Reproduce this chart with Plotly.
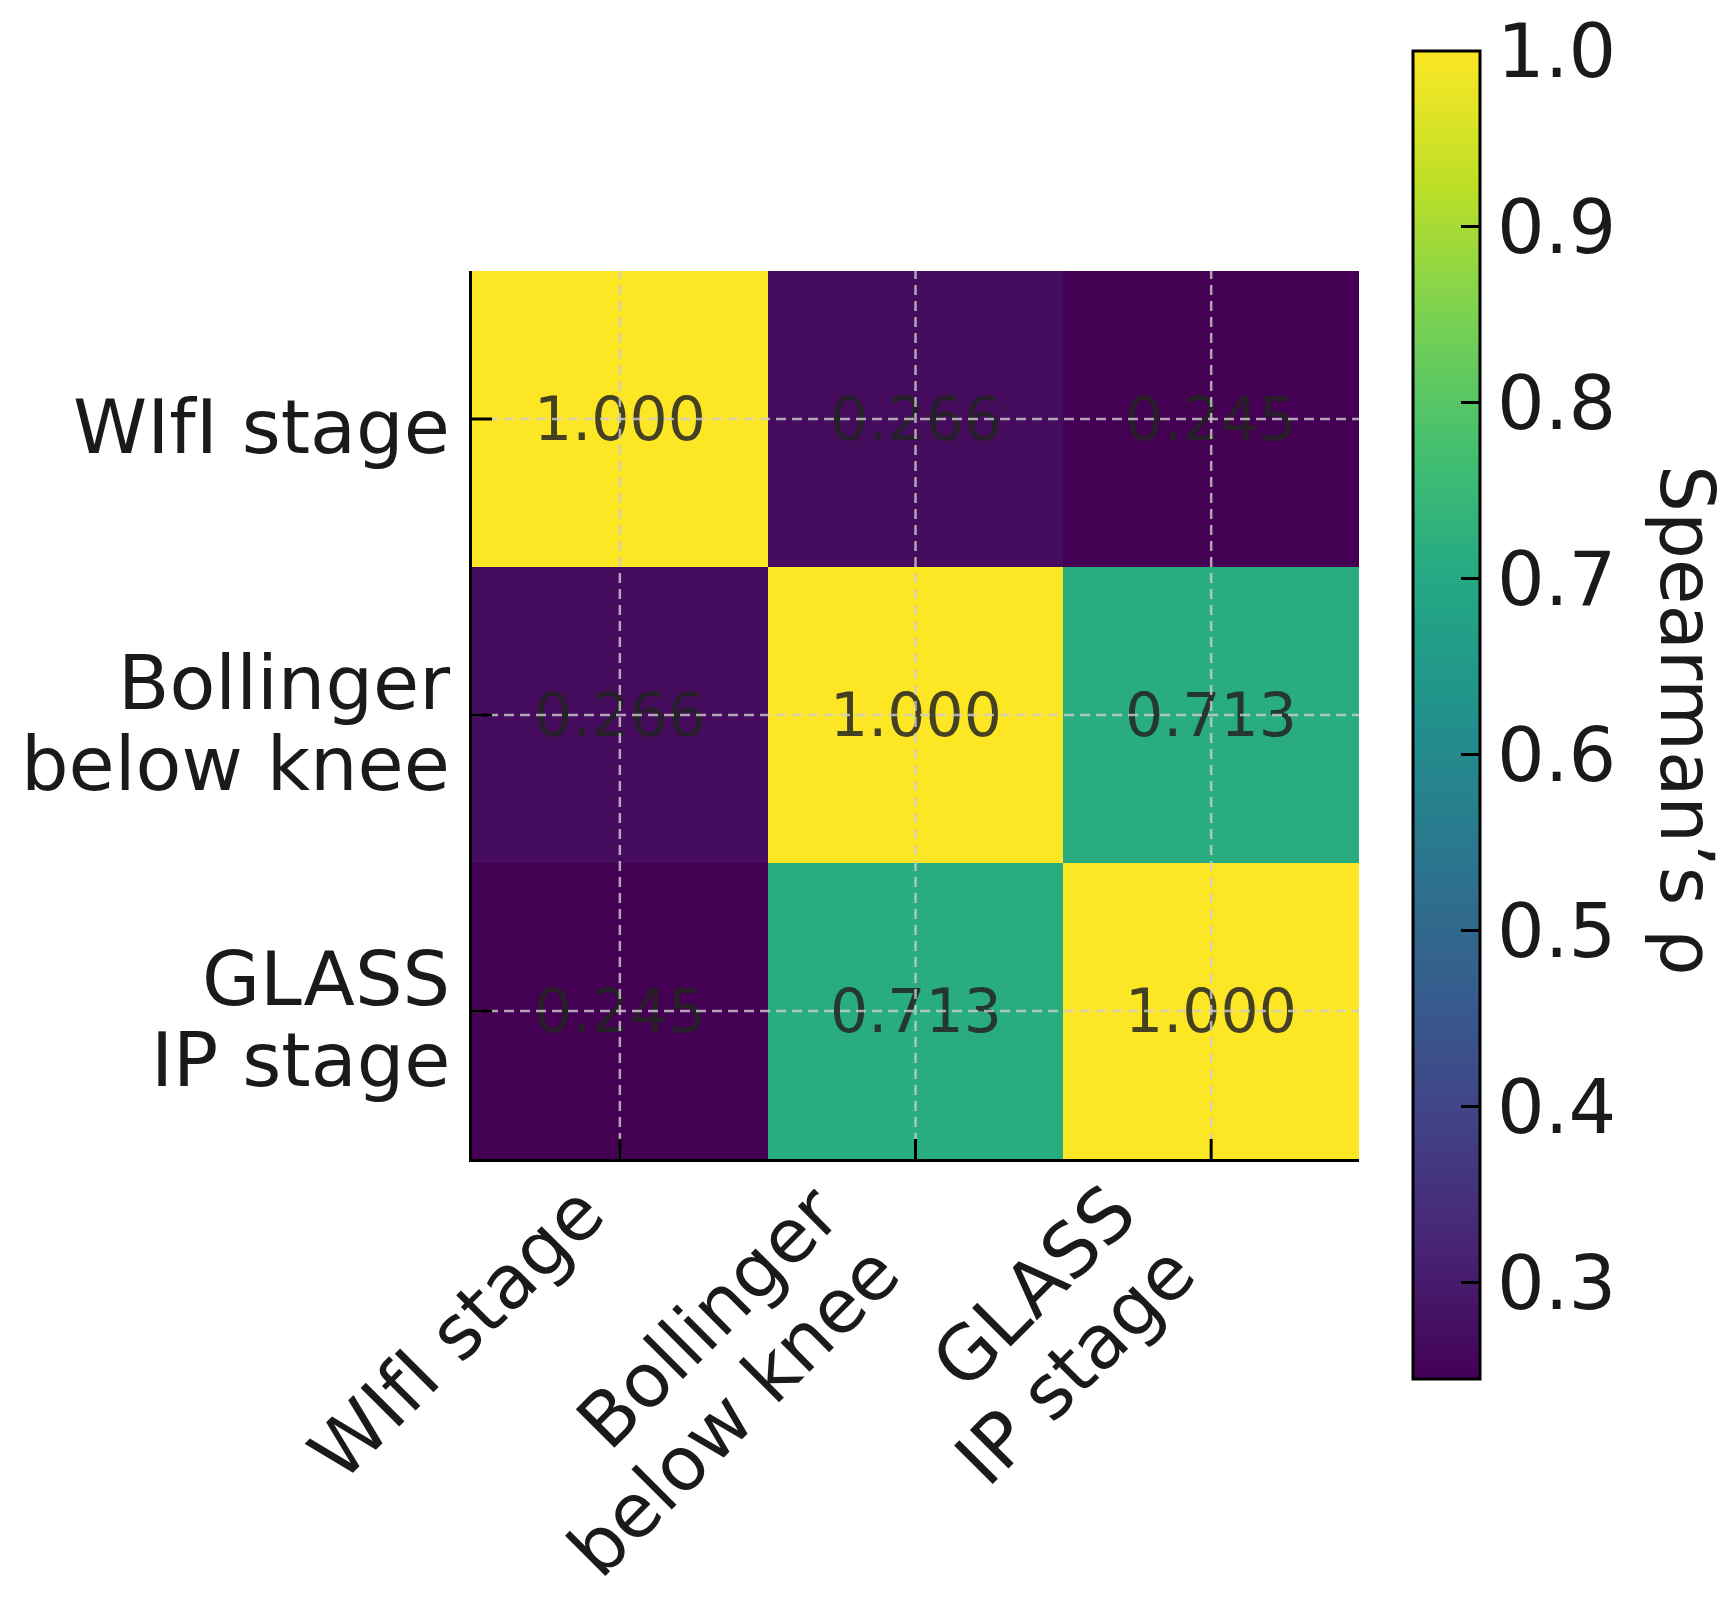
import math
import plotly.graph_objects as go

labels_x = ["WIfI stage", "Bollinger<br>below knee", "GLASS<br>IP stage"]
labels_y = ["WIfI stage", "Bollinger<br>below knee", "GLASS<br>IP stage"]
rho = [
    [1.000, 0.266, 0.245],
    [0.266, 1.000, 0.713],
    [0.245, 0.713, 1.000],
]
cbar_ticks = [0.3, 0.4, 0.5, 0.6, 0.7, 0.8, 0.9, 1.0]
zmin, zmax = 0.245, 1.0

# matplotlib viridis stops
viridis = [
    [0.0, "#440154"], [0.1, "#482475"], [0.2, "#414487"], [0.3, "#355f8d"],
    [0.4, "#2a788e"], [0.5, "#21918c"], [0.6, "#22a884"], [0.7, "#44bf70"],
    [0.8, "#7ad151"], [0.9, "#bddf26"], [1.0, "#fde725"],
]

FONT = "DejaVu Sans"
TXT = "#1a1a1a"
W, H = 1735, 1611
L, T = 472, 271
PW, PH = 887, 888
LABEL_SIZE = 75

fig = go.Figure()
fig.add_trace(go.Heatmap(
    z=rho, x=labels_x, y=labels_y,
    colorscale=viridis, zmin=zmin, zmax=zmax,
    texttemplate="%{z:.3f}",
    textfont=dict(family=FONT, size=60, color="rgba(35,35,35,0.85)"),
    hoverinfo="skip",
    colorbar=dict(
        thickness=67, thicknessmode="pixels",
        len=1328, lenmode="pixels",
        x=(1413 - L) / PW, xanchor="left", xpad=0,
        y=0.5, yanchor="middle", ypad=0,
        outlinewidth=3, outlinecolor="black",
        ticks="inside", ticklen=20, tickwidth=3, tickcolor="black",
        tickvals=cbar_ticks, tickformat=".1f",
        tickfont=dict(family=FONT, size=75, color=TXT),
    ),
))

grid_style = dict(color="rgba(205,205,205,0.8)", width=2.5, dash="10px,6px")
tick_style = dict(color="black", width=3)
for c in labels_x:
    fig.add_shape(type="line", xref="x", yref="y domain", x0=c, x1=c, y0=0, y1=1,
                  line=grid_style, layer="above")
    fig.add_shape(type="line", xref="x", yref="y domain", x0=c, x1=c,
                  ysizemode="pixel", yanchor=0, y0=0, y1=20,
                  line=tick_style, layer="above")
for c in labels_y:
    fig.add_shape(type="line", xref="x domain", yref="y", x0=0, x1=1, y0=c, y1=c,
                  line=grid_style, layer="above")
    fig.add_shape(type="line", xref="x domain", yref="y", y0=c, y1=c,
                  xsizemode="pixel", xanchor=0, x0=0, x1=20,
                  line=tick_style, layer="above")

lab_font = dict(family=FONT, size=LABEL_SIZE, color=TXT)

# x tick labels: rotated 45°, right-aligned lines
d_x = 84 / math.sqrt(2)
for c in labels_x:
    lines = c.split("<br>")
    n = len(lines)
    for k, line in enumerate(lines):
        fig.add_annotation(text=line, xref="x", yref="y domain", x=c, y=0,
                           xanchor="right", yanchor="top", textangle=-45,
                           xshift=2 - (n - 1 - k) * d_x, yshift=-(8 + k * d_x),
                           showarrow=False, borderpad=0, font=lab_font)

# y tick labels: right-aligned, lines stacked
d_y = 81
for c in labels_y:
    lines = c.split("<br>")
    n = len(lines)
    for k, line in enumerate(lines):
        fig.add_annotation(text=line, xref="x domain", yref="y", x=0, y=c,
                           xanchor="right", yanchor="middle",
                           xshift=-21, yshift=-8 + ((n - 1) / 2 - k) * d_y,
                           showarrow=False, borderpad=0, font=lab_font)

fig.add_annotation(text="Spearman’s ρ", xref="paper", yref="paper",
                   x=(1687 - L) / PW, y=(T + PH - 720) / PH, textangle=90,
                   xanchor="center", yanchor="middle",
                   showarrow=False, font=dict(family=FONT, size=74, color=TXT))

axis_common = dict(
    showline=True, linewidth=3, linecolor="black", mirror=False,
    ticks="", showgrid=False, zeroline=False, showticklabels=False,
)
fig.update_xaxes(**axis_common, range=[-0.5, len(labels_x) - 0.5], autorange=False)
fig.update_yaxes(**axis_common, range=[len(labels_y) - 0.5, -0.5], autorange=False)

fig.update_layout(
    width=W, height=H,
    margin=dict(l=L, t=T, r=W - L - PW, b=H - T - PH, autoexpand=False),
    paper_bgcolor="white", plot_bgcolor="white",
    showlegend=False,
)
fig.write_html("out.html")
